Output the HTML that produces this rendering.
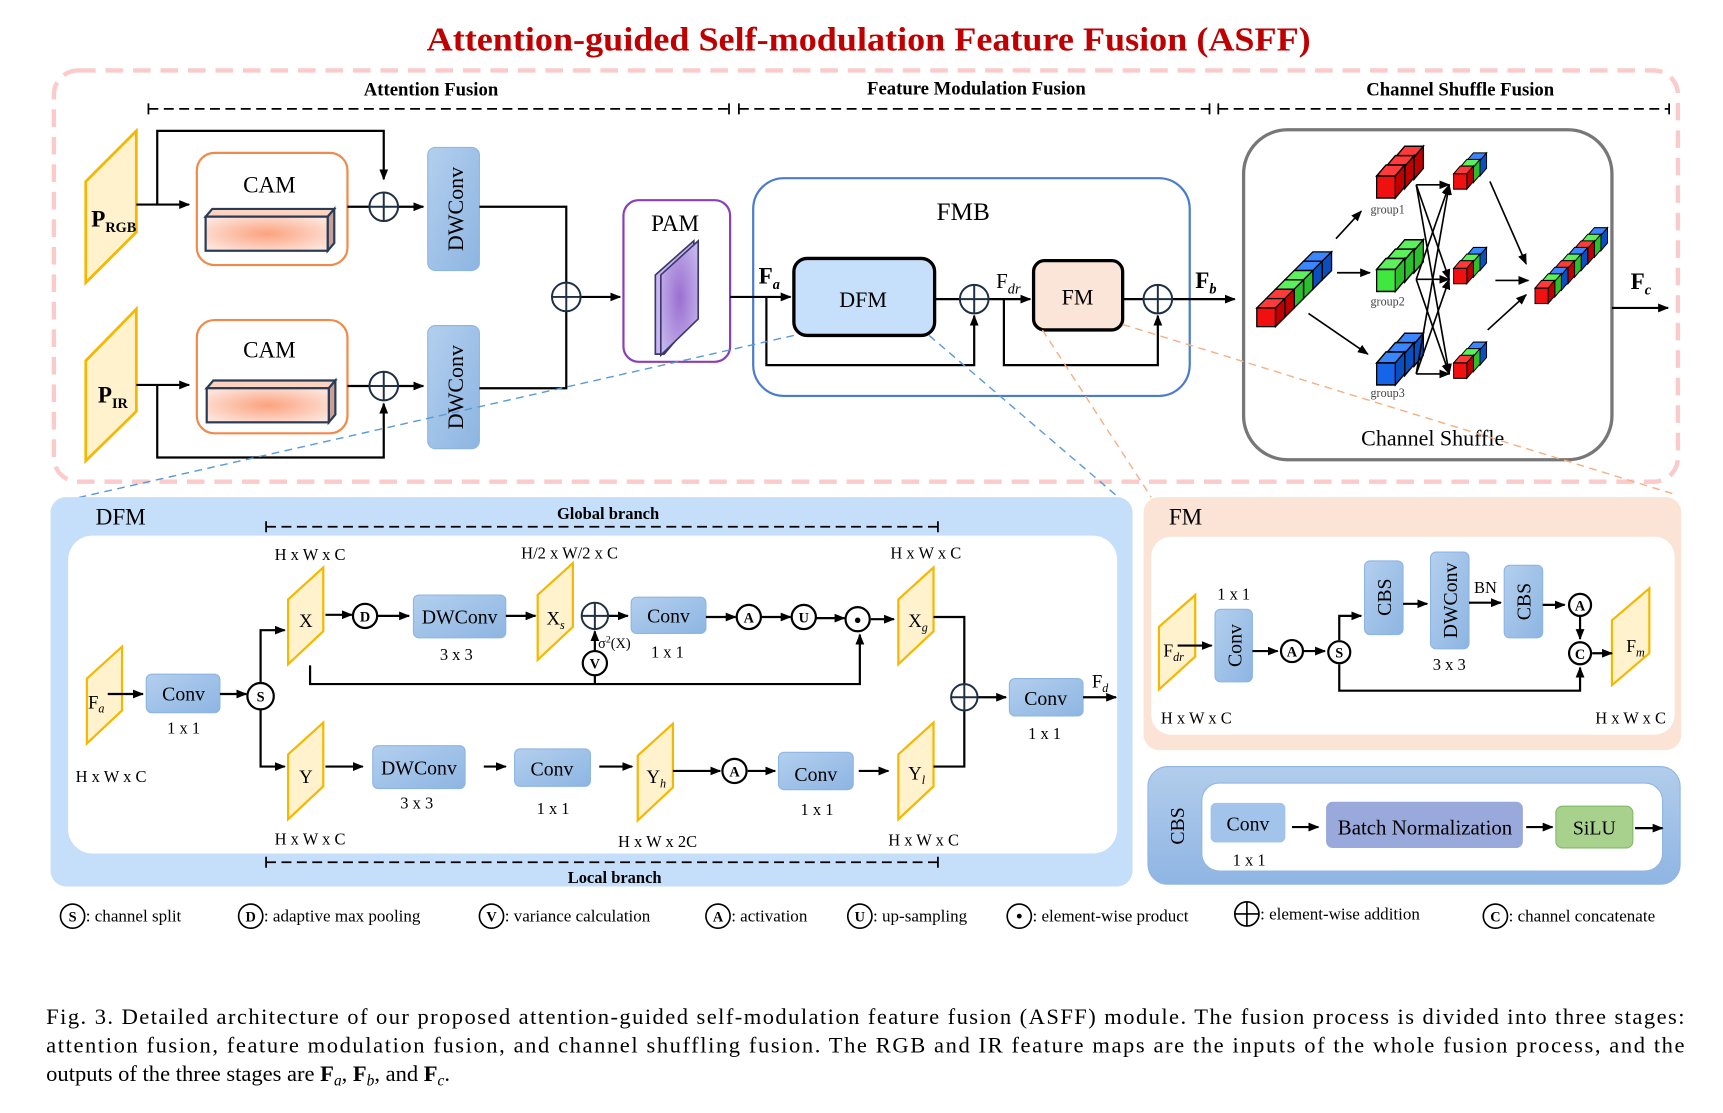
<!DOCTYPE html>
<html><head><meta charset="utf-8"><style>
html,body{margin:0;padding:0;background:#fff;}
svg{display:block;}
text{font-family:"Liberation Serif",serif;}
</style></head><body>
<svg width="1723" height="1113" viewBox="0 0 1567 1012" preserveAspectRatio="none" xmlns="http://www.w3.org/2000/svg">
<defs>
<marker id="a" markerWidth="10" markerHeight="10" refX="9" refY="5" orient="auto" markerUnits="userSpaceOnUse"><path d="M0,1 L10,5 L0,9z" fill="#000"/></marker>
<radialGradient id="cam" cx="0.5" cy="0.5" r="0.6"><stop offset="0" stop-color="#fca27e"/><stop offset="1" stop-color="#fde3da"/></radialGradient>
<radialGradient id="pam" cx="0.5" cy="0.5" r="0.6"><stop offset="0" stop-color="#9b6fd0"/><stop offset="1" stop-color="#c4b4ec"/></radialGradient>
<linearGradient id="blu" x1="0" y1="0" x2="1" y2="1"><stop offset="0" stop-color="#b3cfee"/><stop offset="1" stop-color="#8db5e2"/></linearGradient>
<linearGradient id="cbsg" x1="0" y1="0" x2="0" y2="1"><stop offset="0" stop-color="#b2cdec"/><stop offset="1" stop-color="#8fb5e3"/></linearGradient>
<g id="cr"><polygon points="0,0 5,-5 15,-5 10,0" fill="#ff3a3a" stroke="#000" stroke-width="0.7"/><polygon points="10,0 15,-5 15,5 10,10" fill="#c00000" stroke="#000" stroke-width="0.7"/><rect x="0" y="0" width="10" height="10" fill="#f01010" stroke="#000" stroke-width="0.7"/></g>
<g id="cg"><polygon points="0,0 5,-5 15,-5 10,0" fill="#5cf05c" stroke="#000" stroke-width="0.7"/><polygon points="10,0 15,-5 15,5 10,10" fill="#2cbf2c" stroke="#000" stroke-width="0.7"/><rect x="0" y="0" width="10" height="10" fill="#3ee83e" stroke="#000" stroke-width="0.7"/></g>
<g id="cb"><polygon points="0,0 5,-5 15,-5 10,0" fill="#3a86ff" stroke="#000" stroke-width="0.7"/><polygon points="10,0 15,-5 15,5 10,10" fill="#0a4fc0" stroke="#000" stroke-width="0.7"/><rect x="0" y="0" width="10" height="10" fill="#1665e8" stroke="#000" stroke-width="0.7"/></g>
<g id="fp"><polygon points="0,29 32,0 32,58 0,88" fill="#fff2cc" stroke="#f5b800" stroke-width="2"/></g>
</defs>

<text x="790" y="46" text-anchor="middle" font-size="31" font-weight="bold" fill="#c00000" textLength="804" lengthAdjust="spacingAndGlyphs">Attention-guided Self-modulation Feature Fusion (ASFF)</text>

<rect x="49" y="64" width="1477" height="374" rx="22" fill="none" stroke="#fbcaca" stroke-width="4" stroke-dasharray="16,9"/>

<g font-size="17" font-weight="bold" text-anchor="middle">
<text x="392" y="87">Attention Fusion</text>
<text x="888" y="86">Feature Modulation Fusion</text>
<text x="1328" y="87">Channel Shuffle Fusion</text>
</g>
<g stroke="#000" stroke-width="1.6" fill="none">
<line x1="135" y1="99" x2="663" y2="99" stroke-dasharray="9,5"/>
<line x1="672" y1="99" x2="1100" y2="99" stroke-dasharray="9,5"/>
<line x1="1108" y1="99" x2="1518" y2="99" stroke-dasharray="9,5"/>
<path d="M135,94v10M663,94v10M672,94v10M1100,94v10M1108,94v10M1518,94v10"/>
</g>

<polygon points="78,165 124,119 124,211 78,257" fill="#fff2cc" stroke="#f5b800" stroke-width="2.5"/>
<polygon points="78,328 124,281 124,374 78,419" fill="#fff2cc" stroke="#f5b800" stroke-width="2.5"/>
<text x="83" y="206" font-size="21" font-weight="bold">P<tspan font-size="13" dy="5">RGB</tspan></text>
<text x="89" y="366" font-size="21" font-weight="bold">P<tspan font-size="13" dy="5">IR</tspan></text>

<rect x="179" y="139" width="137" height="102" rx="16" fill="#fff" stroke="#f08a4b" stroke-width="2"/>
<rect x="179" y="291" width="137" height="103" rx="16" fill="#fff" stroke="#f08a4b" stroke-width="2"/>
<text x="245" y="175" font-size="21" text-anchor="middle">CAM</text>
<text x="245" y="325" font-size="21" text-anchor="middle">CAM</text>
<g stroke="#2a3c55" stroke-width="2">
<polygon points="187,197 193,190 304,190 298,197" fill="#fcd2c0"/>
<polygon points="298,197 304,190 304,221 298,228" fill="#c9a097"/>
<rect x="187" y="197" width="111" height="31" fill="url(#cam)"/>
<polygon points="188,353 194,346 305,346 299,353" fill="#fcd2c0"/>
<polygon points="299,353 305,346 305,377 299,384" fill="#c9a097"/>
<rect x="188" y="353" width="111" height="31" fill="url(#cam)"/>
</g>

<rect x="389" y="134" width="47" height="112" rx="7" fill="url(#blu)" stroke="#8db5e2"/>
<rect x="389" y="296" width="47" height="112" rx="7" fill="url(#blu)" stroke="#8db5e2"/>
<text transform="translate(421,190) rotate(-90)" font-size="20" text-anchor="middle">DWConv</text>
<text transform="translate(421,352) rotate(-90)" font-size="20" text-anchor="middle">DWConv</text>

<g stroke="#000" stroke-width="2" fill="none">
<path d="M124,186H172" marker-end="url(#a)"/>
<path d="M143,186V119H349V163" marker-end="url(#a)"/>
<path d="M316,188H336"/>
<path d="M362,188H385" marker-end="url(#a)"/>
<path d="M124,350H172" marker-end="url(#a)"/>
<path d="M143,350V416H349V367" marker-end="url(#a)"/>
<path d="M316,351H336"/>
<path d="M362,351H385" marker-end="url(#a)"/>
<path d="M436,188H515V257"/>
<path d="M436,353H515V283"/>
<path d="M528,270H564" marker-end="url(#a)"/>
</g>
<g stroke="#1f2f45" stroke-width="1.8" fill="none">
<circle cx="349" cy="188" r="13"/><path d="M336,188h26M349,175v26"/>
<circle cx="349" cy="351" r="13"/><path d="M336,351h26M349,338v26"/>
<circle cx="515" cy="270" r="13"/><path d="M502,270h26M515,257v26"/>
</g>

<rect x="567" y="182" width="97" height="147" rx="14" fill="#fff" stroke="#8a3fb5" stroke-width="2"/>
<text x="614" y="210" font-size="21" text-anchor="middle">PAM</text>
<polygon points="596,250 631,219 631,290 604,322 596,322" fill="#c9b5f2" stroke="#3a3a6a" stroke-width="1.5"/>
<polygon points="601,250 635,219 635,290 601,323" fill="url(#pam)" stroke="#3a3a6a" stroke-width="1.5"/>

<rect x="685" y="162" width="397" height="198" rx="28" fill="#fff" stroke="#4a7bd0" stroke-width="2"/>
<text x="876" y="200" font-size="23" text-anchor="middle">FMB</text>
<text x="690" y="258" font-size="21" font-weight="bold">F<tspan font-size="13" font-style="italic" dy="5">a</tspan></text>
<rect x="722" y="235" width="128" height="70" rx="12" fill="#c6dffa" stroke="#000" stroke-width="3"/>
<text x="785" y="279" font-size="20" text-anchor="middle">DFM</text>
<rect x="940" y="237" width="81" height="63" rx="10" fill="#fbe5d8" stroke="#000" stroke-width="3"/>
<text x="980" y="277" font-size="20" text-anchor="middle">FM</text>
<text x="906" y="262" font-size="19">F<tspan font-size="13" font-style="italic" dy="5">dr</tspan></text>
<text x="1087" y="262" font-size="21" font-weight="bold">F<tspan font-size="13" font-style="italic" dy="5">b</tspan></text>
<g stroke="#000" stroke-width="2" fill="none">
<path d="M664,270H719" marker-end="url(#a)"/>
<path d="M697,270V332H886V287" marker-end="url(#a)"/>
<path d="M850,272H873"/>
<path d="M899,272H937" marker-end="url(#a)"/>
<path d="M913,272V332H1053V287" marker-end="url(#a)"/>
<path d="M1021,272H1040"/>
<path d="M1066,272H1123" marker-end="url(#a)"/>
</g>
<g stroke="#1f2f45" stroke-width="1.8" fill="none">
<circle cx="886" cy="272" r="13"/><path d="M873,272h26M886,259v26"/>
<circle cx="1053" cy="272" r="13"/><path d="M1040,272h26M1053,259v26"/>
</g>

<rect x="1131" y="118" width="335" height="300" rx="40" fill="#fff" stroke="#777" stroke-width="3"/>
<text x="1303" y="405" font-size="20" text-anchor="middle">Channel Shuffle</text>
<g font-size="11" fill="#444" text-anchor="middle"><text x="1262" y="194">group1</text><text x="1262" y="278">group2</text><text x="1262" y="361">group3</text></g>
<use href="#cb" transform="translate(1185.5,237.5) scale(1.7)"/>
<use href="#cb" transform="translate(1177,246) scale(1.7)"/>
<use href="#cg" transform="translate(1168.5,254.5) scale(1.7)"/>
<use href="#cg" transform="translate(1160,263) scale(1.7)"/>
<use href="#cr" transform="translate(1151.5,271.5) scale(1.7)"/>
<use href="#cr" transform="translate(1143,280) scale(1.7)"/>
<use href="#cr" transform="translate(1269,143) scale(1.7,2)"/><use href="#cr" transform="translate(1260.5,151.5) scale(1.7,2)"/><use href="#cr" transform="translate(1252,160) scale(1.7,2)"/>
<use href="#cg" transform="translate(1269,228) scale(1.7,2)"/><use href="#cg" transform="translate(1260.5,236.5) scale(1.7,2)"/><use href="#cg" transform="translate(1252,245) scale(1.7,2)"/>
<use href="#cb" transform="translate(1269,313) scale(1.7,2)"/><use href="#cb" transform="translate(1260.5,321.5) scale(1.7,2)"/><use href="#cb" transform="translate(1252,330) scale(1.7,2)"/>
<g id="sh1"><use href="#cb" transform="translate(1334,146) scale(1.2,1.4)"/><use href="#cg" transform="translate(1328,152) scale(1.2,1.4)"/><use href="#cr" transform="translate(1322,158) scale(1.2,1.4)"/></g>
<use href="#sh1" transform="translate(0,86)"/>
<use href="#sh1" transform="translate(0,172)"/>
<g>
<use href="#cb" transform="translate(1444,214) scale(1.2,1.4)"/>
<use href="#cg" transform="translate(1438,220) scale(1.2,1.4)"/>
<use href="#cr" transform="translate(1432,226) scale(1.2,1.4)"/>
<use href="#cb" transform="translate(1426,232) scale(1.2,1.4)"/>
<use href="#cg" transform="translate(1420,238) scale(1.2,1.4)"/>
<use href="#cr" transform="translate(1414,244) scale(1.2,1.4)"/>
<use href="#cb" transform="translate(1408,250) scale(1.2,1.4)"/>
<use href="#cg" transform="translate(1402,256) scale(1.2,1.4)"/>
<use href="#cr" transform="translate(1396,262) scale(1.2,1.4)"/>
</g>
<g stroke="#000" stroke-width="1.5" fill="none">
<path d="M1215,217L1238,192" marker-end="url(#a)"/>
<path d="M1216,248H1246" marker-end="url(#a)"/>
<path d="M1190,285L1244,322" marker-end="url(#a)"/>
<path d="M1288,168H1318" marker-end="url(#a)"/>
<path d="M1288,168L1318,254" marker-end="url(#a)"/>
<path d="M1288,168L1318,340" marker-end="url(#a)"/>
<path d="M1288,254L1318,168" marker-end="url(#a)"/>
<path d="M1288,254H1318" marker-end="url(#a)"/>
<path d="M1288,254L1318,340" marker-end="url(#a)"/>
<path d="M1288,340L1318,168" marker-end="url(#a)"/>
<path d="M1288,340L1318,254" marker-end="url(#a)"/>
<path d="M1288,340H1318" marker-end="url(#a)"/>
<path d="M1355,165L1388,240" marker-end="url(#a)"/>
<path d="M1360,255H1390" marker-end="url(#a)"/>
<path d="M1353,300L1388,268" marker-end="url(#a)"/>
</g>
<path d="M1466,280H1517" stroke="#000" stroke-width="2" marker-end="url(#a)"/>
<text x="1483" y="263" font-size="21" font-weight="bold">F<tspan font-size="13" font-style="italic" dy="5">c</tspan></text>

<g fill="none" stroke-width="1.3" stroke-dasharray="7,5">
<path d="M722,305L60,455" stroke="#5b9bd5"/>
<path d="M845,305L1017,452" stroke="#5b9bd5"/>
<path d="M948,300L1047,452" stroke="#f4b183"/>
<path d="M1021,295L1525,450" stroke="#f4b183"/>
</g>

<rect x="46" y="452" width="984" height="354" rx="14" fill="#c5defa"/>
<rect x="62" y="487" width="954" height="289" rx="22" fill="#fff"/>
<text x="87" y="477" font-size="21">DFM</text>
<text x="553" y="472" font-size="15" font-weight="bold" text-anchor="middle">Global branch</text>
<text x="559" y="803" font-size="15" font-weight="bold" text-anchor="middle">Local branch</text>
<g stroke="#000" stroke-width="1.6" fill="none">
<line x1="242" y1="479" x2="853" y2="479" stroke-dasharray="9,5"/>
<line x1="242" y1="784" x2="853" y2="784" stroke-dasharray="9,5"/>
<path d="M242,474v10M853,474v10M242,779v10M853,779v10"/>
</g>
<use href="#fp" x="79" y="588"/>
<use href="#fp" x="262" y="516"/>
<use href="#fp" x="489" y="512"/>
<use href="#fp" x="817" y="516"/>
<use href="#fp" x="262" y="657"/>
<use href="#fp" x="580" y="658"/>
<use href="#fp" x="817" y="657"/>
<g font-size="17">
<text x="80" y="644">F<tspan font-size="11" font-style="italic" dy="4">a</tspan></text>
<text x="272" y="570">X</text>
<text x="497" y="568">X<tspan font-size="11" font-style="italic" dy="4">s</tspan></text>
<text x="826" y="570">X<tspan font-size="11" font-style="italic" dy="4">g</tspan></text>
<text x="272" y="712">Y</text>
<text x="588" y="712">Y<tspan font-size="11" font-style="italic" dy="4">h</tspan></text>
<text x="826" y="709">Y<tspan font-size="11" font-style="italic" dy="4">l</tspan></text>
<text x="993" y="625">F<tspan font-size="11" font-style="italic" dy="4">d</tspan></text>
</g>
<g fill="url(#blu)" stroke="#8db5e2">
<rect x="133" y="613" width="67" height="35" rx="5"/>
<rect x="376" y="541" width="84" height="39" rx="5"/>
<rect x="574" y="543" width="68" height="33" rx="5"/>
<rect x="918" y="617" width="67" height="34" rx="5"/>
<rect x="339" y="678" width="84" height="39" rx="5"/>
<rect x="468" y="681" width="69" height="34" rx="5"/>
<rect x="708" y="684" width="68" height="34" rx="5"/>
</g>
<g font-size="18" text-anchor="middle">
<text x="167" y="637">Conv</text>
<text x="418" y="567">DWConv</text>
<text x="608" y="566">Conv</text>
<text x="951" y="641">Conv</text>
<text x="381" y="704">DWConv</text>
<text x="502" y="705">Conv</text>
<text x="742" y="710">Conv</text>
</g>
<g font-size="15" text-anchor="middle">
<text x="167" y="667">1 x 1</text>
<text x="415" y="600">3 x 3</text>
<text x="607" y="598">1 x 1</text>
<text x="950" y="672">1 x 1</text>
<text x="379" y="735">3 x 3</text>
<text x="503" y="740">1 x 1</text>
<text x="743" y="741">1 x 1</text>
<text x="282" y="509">H x W x C</text>
<text x="518" y="508">H/2 x W/2 x C</text>
<text x="842" y="508">H x W x C</text>
<text x="101" y="711">H x W x C</text>
<text x="282" y="768">H x W x C</text>
<text x="598" y="770">H x W x 2C</text>
<text x="840" y="769">H x W x C</text>
</g>
<text x="544" y="589" font-size="13">σ<tspan font-size="9" dy="-5">2</tspan><tspan dy="5">(X)</tspan></text>
<g stroke="#000" stroke-width="2" fill="none">
<path d="M98,631H130" marker-end="url(#a)"/>
<path d="M200,631H224" marker-end="url(#a)"/>
<path d="M237,621V573H259" marker-end="url(#a)"/>
<path d="M237,645V697H259" marker-end="url(#a)"/>
<path d="M296,559H320" marker-end="url(#a)"/>
<path d="M343,560H372" marker-end="url(#a)"/>
<path d="M460,560H487" marker-end="url(#a)"/>
<path d="M553,560H571" marker-end="url(#a)"/>
<path d="M642,561H669" marker-end="url(#a)"/>
<path d="M692,561H719" marker-end="url(#a)"/>
<path d="M742,562H768" marker-end="url(#a)"/>
<path d="M792,563H813" marker-end="url(#a)"/>
<path d="M282,605V622H782V577" marker-end="url(#a)"/>
<path d="M541,622V614"/>
<path d="M541,592V574" marker-end="url(#a)"/>
<path d="M849,561H877V697H849"/>
<path d="M889,634H915" marker-end="url(#a)"/>
<path d="M985,634H1015" marker-end="url(#a)"/>
<path d="M296,697H330" marker-end="url(#a)"/>
<path d="M440,697H460" marker-end="url(#a)"/>
<path d="M545,697H575" marker-end="url(#a)"/>
<path d="M612,701H655" marker-end="url(#a)"/>
<path d="M680,701H705" marker-end="url(#a)"/>
<path d="M781,701H808" marker-end="url(#a)"/>
</g>
<g stroke="#000" stroke-width="2" fill="#fff">
<circle cx="237" cy="633" r="12"/>
<circle cx="332" cy="560" r="11"/>
<circle cx="541" cy="603" r="11"/>
<circle cx="681" cy="561" r="11"/>
<circle cx="731" cy="561" r="11"/>
<circle cx="780" cy="563" r="11"/>
<circle cx="668" cy="701" r="11"/>
</g>
<g stroke="#1f2f45" stroke-width="1.8" fill="#fff">
<circle cx="541" cy="560" r="12"/><path d="M529,560h24M541,548v24" fill="none"/>
<circle cx="877" cy="634" r="12"/><path d="M865,634h24M877,622v24" fill="none"/>
</g>
<g font-size="13" font-weight="bold" text-anchor="middle">
<text x="237" y="638">S</text><text x="332" y="565">D</text><text x="541" y="608">V</text>
<text x="681" y="566">A</text><text x="731" y="566">U</text><text x="668" y="706">A</text>
</g>
<circle cx="780" cy="564" r="2.5" fill="#000"/>

<rect x="1040" y="452" width="489" height="230" rx="14" fill="#fbe3d6"/>
<rect x="1047" y="488" width="476" height="180" rx="18" fill="#fff"/>
<text x="1063" y="477" font-size="21">FM</text>
<polygon points="1054,570 1087,541 1087,597 1054,627" fill="#fff2cc" stroke="#f5b800" stroke-width="2"/>
<polygon points="1466,564 1500,535 1500,594 1466,623" fill="#fff2cc" stroke="#f5b800" stroke-width="2"/>
<text x="1058" y="597" font-size="16">F<tspan font-size="11" font-style="italic" dy="4">dr</tspan></text>
<text x="1479" y="593" font-size="16">F<tspan font-size="11" font-style="italic" dy="4">m</tspan></text>
<g fill="url(#blu)" stroke="#8db5e2">
<rect x="1105" y="554" width="34" height="66" rx="5"/>
<rect x="1241" y="510" width="35" height="67" rx="5"/>
<rect x="1301" y="502" width="35" height="88" rx="5"/>
<rect x="1368" y="514" width="35" height="66" rx="5"/>
</g>
<g font-size="18" text-anchor="middle">
<text transform="translate(1129,587) rotate(-90)">Conv</text>
<text transform="translate(1265,543) rotate(-90)">CBS</text>
<text transform="translate(1325,546) rotate(-90)">DWConv</text>
<text transform="translate(1392,547) rotate(-90)">CBS</text>
</g>
<g font-size="15" text-anchor="middle">
<text x="1122" y="545">1 x 1</text>
<text x="1318" y="609">3 x 3</text>
<text x="1351" y="539">BN</text>
<text x="1088" y="658">H x W x C</text>
<text x="1483" y="658">H x W x C</text>
</g>
<g stroke="#000" stroke-width="2" fill="none">
<path d="M1071,587H1102" marker-end="url(#a)"/>
<path d="M1139,592H1162" marker-end="url(#a)"/>
<path d="M1183,592H1205" marker-end="url(#a)"/>
<path d="M1218,582V560H1238" marker-end="url(#a)"/>
<path d="M1276,549H1298" marker-end="url(#a)"/>
<path d="M1336,548H1365" marker-end="url(#a)"/>
<path d="M1403,550H1423" marker-end="url(#a)"/>
<path d="M1437,559V581" marker-end="url(#a)"/>
<path d="M1448,594H1466" marker-end="url(#a)"/>
<path d="M1218,604V628H1437V607" marker-end="url(#a)"/>
</g>
<g stroke="#000" stroke-width="2" fill="#fff">
<circle cx="1175" cy="592" r="10"/><circle cx="1218" cy="593" r="10"/>
<circle cx="1437" cy="550" r="10"/><circle cx="1437" cy="594" r="10"/>
</g>
<g font-size="13" font-weight="bold" text-anchor="middle">
<text x="1175" y="597">A</text><text x="1218" y="598">S</text><text x="1437" y="555">A</text><text x="1437" y="599">C</text>
</g>

<rect x="1044" y="697" width="484" height="107" rx="18" fill="url(#cbsg)" stroke="#8fb5e3"/>
<rect x="1093" y="712" width="419" height="80" rx="16" fill="#fff" stroke="#8fb5e3"/>
<text transform="translate(1077,751) rotate(-90)" font-size="18" text-anchor="middle">CBS</text>
<rect x="1101" y="730" width="68" height="36" rx="5" fill="#a3c4ea"/>
<rect x="1206" y="729" width="179" height="42" rx="6" fill="#9aa9dc"/>
<rect x="1415" y="733" width="70" height="38" rx="6" fill="#a9d18e" stroke="#82b866"/>
<text x="1135" y="755" font-size="18" text-anchor="middle">Conv</text>
<text x="1296" y="759" font-size="19" text-anchor="middle">Batch Normalization</text>
<text x="1450" y="759" font-size="18" text-anchor="middle">SiLU</text>
<text x="1136" y="787" font-size="15" text-anchor="middle">1 x 1</text>
<g stroke="#000" stroke-width="2" fill="none">
<path d="M1175,752H1199" marker-end="url(#a)"/>
<path d="M1388,752H1412" marker-end="url(#a)"/>
<path d="M1487,753H1512" marker-end="url(#a)"/>
</g>

<g stroke="#000" stroke-width="1.5" fill="#fff">
<circle cx="66" cy="833" r="11"/><circle cx="228" cy="833" r="11"/><circle cx="447" cy="833" r="11"/>
<circle cx="653" cy="833" r="11"/><circle cx="782" cy="833" r="11"/><circle cx="927" cy="833" r="11"/>
<circle cx="1134" cy="831" r="11"/><circle cx="1360" cy="833" r="11"/>
<path d="M1123,831h22M1134,820v22" fill="none"/>
</g>
<circle cx="927" cy="833" r="2.2" fill="#000"/>
<g font-size="13" font-weight="bold" text-anchor="middle">
<text x="66" y="838">S</text><text x="228" y="838">D</text><text x="447" y="838">V</text>
<text x="653" y="838">A</text><text x="782" y="838">U</text><text x="1360" y="838">C</text>
</g>
<g font-size="15.5">
<text x="78" y="838">: channel split</text>
<text x="240" y="838">: adaptive max pooling</text>
<text x="459" y="838">: variance calculation</text>
<text x="665" y="838">: activation</text>
<text x="794" y="838">: up-sampling</text>
<text x="939" y="838">: element-wise product</text>
<text x="1146" y="836">: element-wise addition</text>
<text x="1372" y="838">: channel concatenate</text>
</g>

<g font-size="20.5">
<text x="42" y="931" textLength="1490" lengthAdjust="spacing">Fig. 3.  Detailed architecture of our proposed attention-guided self-modulation feature fusion (ASFF) module. The fusion process is divided into three stages:</text>
<text x="42" y="957" textLength="1490" lengthAdjust="spacing">attention fusion, feature modulation fusion, and channel shuffling fusion. The RGB and IR feature maps are the inputs of the whole fusion process, and the</text>
<text x="42" y="983">outputs of the three stages are <tspan font-weight="bold">F</tspan><tspan font-style="italic" font-size="14" dy="4">a</tspan><tspan dy="-4">, </tspan><tspan font-weight="bold">F</tspan><tspan font-style="italic" font-size="14" dy="4">b</tspan><tspan dy="-4">, and </tspan><tspan font-weight="bold">F</tspan><tspan font-style="italic" font-size="14" dy="4">c</tspan><tspan dy="-4">.</tspan></text>
</g>
</svg>
</body></html>
